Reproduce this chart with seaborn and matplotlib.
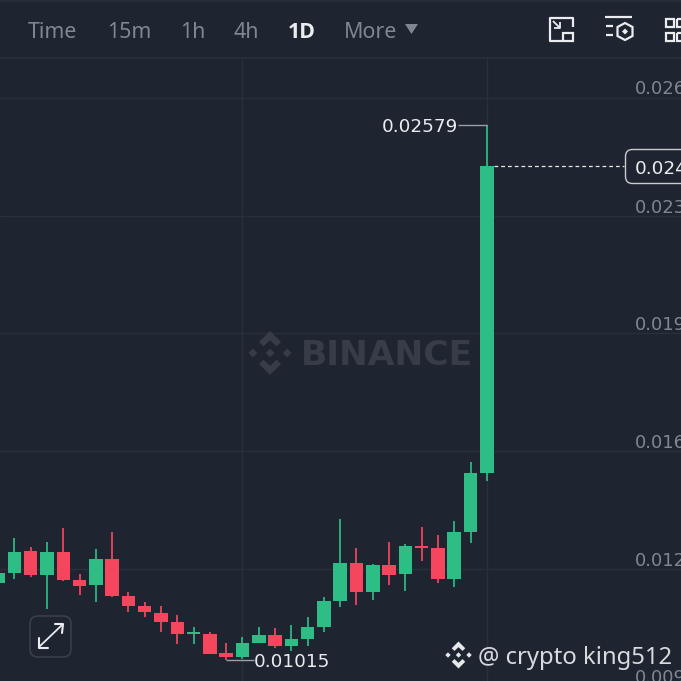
import numpy as np
import pandas as pd
import matplotlib
matplotlib.use("Agg")
import matplotlib.pyplot as plt
from matplotlib.patches import FancyBboxPatch, Polygon, Rectangle
import seaborn as sns

# Daily candles, oldest first
highs = [0.01285, 0.013709, 0.013464, 0.013601, 0.014002, 0.012666, 0.013388, 0.013894,
         0.012149, 0.011839, 0.011722, 0.011468, 0.011108, 0.010962, 0.010640, 0.010824,
         0.011117, 0.011096, 0.011166, 0.011409, 0.012002, 0.014265, 0.013417, 0.012949,
         0.013610, 0.013543, 0.014031, 0.013806, 0.014215, 0.015940, 0.02579]
lows = [0.01225, 0.012520, 0.012569, 0.011634, 0.012461, 0.012052, 0.011856, 0.012002,
        0.011546, 0.011418, 0.010962, 0.010620, 0.010620, 0.010319, 0.01015, 0.010181,
        0.010649, 0.010512, 0.010415, 0.010561, 0.010971, 0.011710, 0.011751, 0.011906,
        0.012344, 0.012178, 0.013055, 0.012394, 0.012295, 0.013563, 0.015376]
opens = [0.012394, 0.012704, 0.013338, 0.012637, 0.013309, 0.012491, 0.012336, 0.013104,
         0.012032, 0.011722, 0.011535, 0.011272, 0.010912, 0.010903, 0.010348, 0.010240,
         0.010649, 0.010883, 0.010561, 0.010775, 0.011126, 0.011877, 0.012979, 0.012131,
         0.012920, 0.012666, 0.013484, 0.013435, 0.012529, 0.013885, 0.015627]
closes = [0.012704, 0.013318, 0.012637, 0.013318, 0.012491, 0.012315, 0.013113, 0.012032,
          0.011722, 0.011546, 0.011272, 0.010912, 0.010962, 0.010336, 0.010240, 0.010649,
          0.010883, 0.010561, 0.010766, 0.011126, 0.011868, 0.012979, 0.012131, 0.012920,
          0.012645, 0.013484, 0.013426, 0.012529, 0.013894, 0.015627, 0.024592]
grid_prices = [0.02658, 0.02313, 0.01970, 0.01626, 0.01281, 0.00937]
grid_labels = ["0.026", "0.023", "0.019", "0.016", "0.012", "0.009"]
last_price_label = "0.0245"
high_label = "0.02579"
low_label = "0.01015"
menu_items = ["Time", "15m", "1h", "4h", "1D", "More"]

BG = "#1e2430"
GRID = "#2a303b"
UP = "#2ebd85"
DOWN = "#f6465d"
MUTED = "#7f8791"
WHITE = "#eaecef"
FONT = "Noto Sans"
NUM = "DejaVu Sans"

sns.set_theme(style="dark", rc={"axes.facecolor": BG, "figure.facecolor": BG})

idx = np.arange(len(opens))
o, c, h, l = map(np.array, (opens, closes, highs, lows))
direction = np.where(c >= o, "up", "down")
palette = {"up": UP, "down": DOWN}

wicks = pd.concat([
    pd.DataFrame({"day": idx, "price": h, "dir": direction}),
    pd.DataFrame({"day": idx, "price": l, "dir": direction}),
])

fig = plt.figure(figsize=(6.81, 6.81), dpi=100)
ax = fig.add_axes([0, 0, 1, 1])
ax.set_axisbelow(True)
ax.set_xlim(0.1166, 41.92)
ax.set_ylim(0.009538, 0.029444)
ax.set_yticks(grid_prices)
ax.set_xticks([15, 30])
ax.grid(True, color=GRID, linewidth=1)
ax.tick_params(length=0, labelleft=False, labelbottom=False)
for s in ax.spines.values():
    s.set_visible(False)

sns.lineplot(data=wicks, x="day", y="price", hue="dir", units="day", estimator=None,
             palette=palette, linewidth=1.25, legend=False, ax=ax, sort=False, zorder=3,
             solid_capstyle="butt")
ax.bar(idx, np.maximum(np.abs(c - o), 0.00005), bottom=np.minimum(o, c), width=0.83,
       color=[palette[d] for d in direction], linewidth=0, zorder=4)
ax.set_xlabel("")
ax.set_ylabel("")
ax.set_xlim(0.1166, 41.92)
ax.set_ylim(0.009538, 0.029444)

# axis labels on the right, sitting above their grid lines
blend = ax.get_yaxis_transform()
for p, t in zip(grid_prices, grid_labels):
    ax.annotate(t, xy=(0, p), xycoords=blend, xytext=(634.5 * 0.72, 8.5 * 0.72),
                textcoords="offset points", color=MUTED, fontsize=13, va="center",
                ha="left", family=NUM, annotation_clip=False, zorder=6)

# high / low annotations with flat leader lines
ih = int(np.argmax(h))
il = int(np.argmin(l))
ax.plot([ih - 1.75, ih], [h[ih], h[ih]], color="#9aa0a8", lw=1, zorder=5, solid_capstyle="butt")
ax.plot([il, il + 1.7], [l[il], l[il]], color="#9aa0a8", lw=1, zorder=5, solid_capstyle="butt")
ax.annotate(high_label, xy=(ih, h[ih]), xytext=(-28.5 * 0.72, -1.2), textcoords="offset points",
            color=WHITE, fontsize=13.2, ha="right", va="center", family=NUM, zorder=7)
ax.annotate(low_label, xy=(il, l[il]), xytext=(27.5 * 0.72, -1.2), textcoords="offset points",
            color=WHITE, fontsize=13.2, ha="left", va="center", family=NUM, zorder=7)

# last price line
ax.plot([idx[-1] + 0.42, idx[-1] + 8.4], [c[-1], c[-1]], color=WHITE, lw=0.9,
        dashes=(3, 2.4), zorder=5)

# overlay in pixel coordinates for the app's chrome
ui = fig.add_axes([0, 0, 1, 1], zorder=10)
ui.set_xlim(0, 681)
ui.set_ylim(681, 0)
ui.axis("off")
ui.patch.set_alpha(0)

ui.add_patch(Rectangle((0, 0), 681, 57, facecolor=BG, edgecolor="none", zorder=1))
ui.plot([0, 681], [57.5, 57.5], color=GRID, lw=1.2, zorder=2)
ui.plot([0, 681], [0.5, 0.5], color=GRID, lw=1.2, zorder=2)

menu_x = [28, 107.5, 180, 233.5, 288, 344]
for x, t in zip(menu_x, menu_items):
    active = t == "1D"
    ui.text(x, 32, t, color=WHITE if active else MUTED, fontsize=15.4,
            family="Open Sans" if active else FONT,
            ha="left", va="center", fontweight="bold" if active else "normal", zorder=3)
ui.add_patch(Polygon([(405, 24), (418, 24), (411.5, 34)], facecolor=MUTED, edgecolor="none", zorder=3))

# toolbar icons
ic = dict(color=WHITE, lw=1.6, solid_capstyle="butt", zorder=3)
ui.plot([562, 549.5, 549.5, 573, 573], [40.5, 40.5, 17.5, 17.5, 27], **ic)
ui.add_patch(Rectangle((563, 33), 10, 8, fill=False, edgecolor=WHITE, lw=1.6, zorder=3))
ui.plot([553, 560], [21, 28], **dict(ic, lw=1.3))
ui.plot([554, 560, 560], [28, 28, 22], **dict(ic, lw=1.3))
ui.plot([605, 632], [17, 17], **ic)
ui.plot([606, 613], [26, 26], **ic)
ui.plot([606, 613], [35, 35], **ic)
ui.add_patch(Polygon([(625, 23), (632.5, 27), (632.5, 36), (625, 40), (617.5, 36), (617.5, 27)],
                     fill=False, edgecolor=WHITE, lw=1.6, zorder=3))
ui.add_patch(Polygon([(625, 28.5), (628, 31.5), (625, 34.5), (622, 31.5)], facecolor=WHITE,
                     edgecolor="none", zorder=3))
for (rx, ry) in [(665.5, 18.5), (677, 18.5), (665.5, 33), (677, 33)]:
    ui.add_patch(Rectangle((rx, ry), 8, 8, fill=False, edgecolor=WHITE, lw=1.6, zorder=3))

# last price box
ui.add_patch(FancyBboxPatch((625.5, 149.5), 80, 34, boxstyle="round,pad=0,rounding_size=7",
                            facecolor=BG, edgecolor="#c9ccd1", lw=1, zorder=3))
ui.text(634.5, 169, last_price_label, color=WHITE, fontsize=13.2, family=NUM,
        ha="left", va="center", zorder=4)


def logo(cx, cy, s, color):
    """Binance diamond mark: two chevrons, two side rhombi and a centre rhombus."""
    r = 0.2 * s
    for dx, dy in [(-0.78, 0), (0.78, 0), (0, 0)]:
        x0, y0 = cx + dx * s, cy + dy * s
        ui.add_patch(Polygon([(x0, y0 - r), (x0 + r, y0), (x0, y0 + r), (x0 - r, y0)],
                             facecolor=color, edgecolor="none", zorder=1))
    for sy in (-1, 1):
        pts = [(0, 1), (0.5, 0.5), (0.3, 0.3), (0, 0.58), (-0.3, 0.3), (-0.5, 0.5)]
        ui.add_patch(Polygon([(cx + px * s, cy + sy * py * s) for px, py in pts],
                             facecolor=color, edgecolor="none", zorder=1))


WM = "#373c47"
logo(270, 353, 22, WM)
ui.text(301, 355.5, "BINANCE", color=WM, fontsize=24.8, family="DejaVu Sans", fontweight="bold",
        ha="left", va="center", zorder=1)

# expand button
ui.add_patch(FancyBboxPatch((30, 616), 41, 41, boxstyle="round,pad=0,rounding_size=8",
                            facecolor="none", edgecolor="#3a404b", lw=1.2, zorder=3))
ui.plot([39, 62], [647, 625], color=WHITE, lw=1.3, zorder=3)
ui.plot([55, 63, 62], [624, 624, 633], color=WHITE, lw=1.5, zorder=3)
ui.plot([39, 39, 48], [638, 648, 648], color=WHITE, lw=1.5, zorder=3)

# bottom-right credit
logo(458.5, 655, 13.5, "#e6e8ea")
ui.text(478, 658, "@ crypto king512", color="#d8dade", fontsize=17.2, family=FONT,
        ha="left", va="center", zorder=3)

fig.savefig("out.png", dpi=100, facecolor=BG)
